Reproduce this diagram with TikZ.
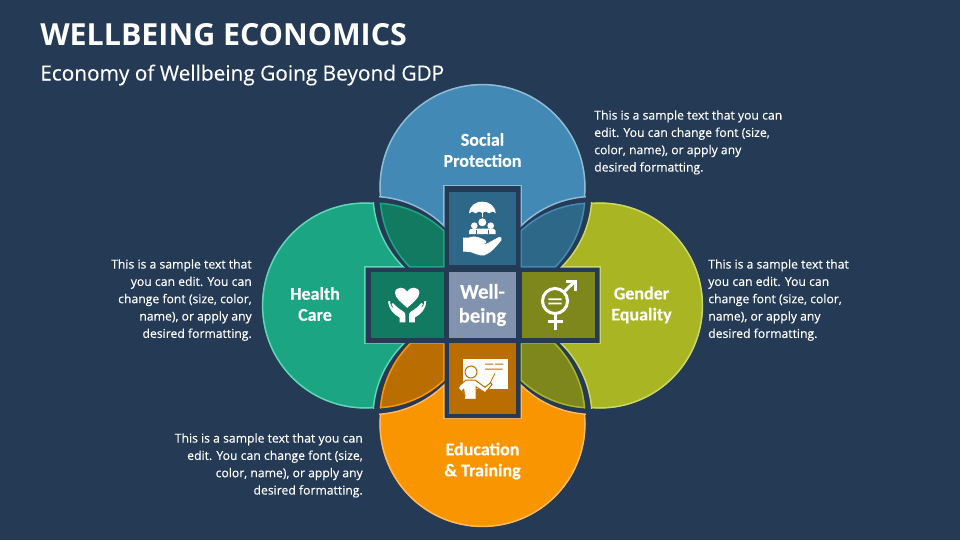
\documentclass[tikz,border=0pt]{standalone}
\usepackage{fontspec}
\setmainfont{Open Sans}
\newfontface\heavyface[FakeBold=0.25]{Open Sans}
\newfontface\labelface[FakeBold=0.2]{Carlito Bold}
\definecolor{navy}{HTML}{253A55}
\definecolor{cblue}{HTML}{428AB5}\definecolor{lblue}{HTML}{8FBBD6}\definecolor{dblue}{HTML}{2E6888}
\definecolor{cteal}{HTML}{1CA583}\definecolor{lteal}{HTML}{5FD6B5}\definecolor{dteal}{HTML}{137A62}
\definecolor{colive}{HTML}{A9B523}\definecolor{lolive}{HTML}{CBD867}\definecolor{dolive}{HTML}{7D871C}
\definecolor{corange}{HTML}{F99500}\definecolor{lorange}{HTML}{FFB962}\definecolor{dorange}{HTML}{BA6D00}
\definecolor{cgray}{HTML}{8193AE}
\def\Rp{77.25pt}\def\Rq{76.8pt}\def\Rs{77.8pt}
\def\CrossPath{(444.5,186) -- (520.5,186) -- (520.5,267.5) -- (599.5,267.5) -- (599.5,343) -- (520.5,343) -- (520.5,418) -- (444.5,418) -- (444.5,343) -- (365.5,343) -- (365.5,267.5) -- (444.5,267.5) -- cycle}
\tikzset{
  thin line/.style={line width=1.1pt},
  wide line/.style={line width=2.2pt},
  body text/.style={text=white,font=\fontsize{9.15pt}{13pt}\heavyface},
  label text/.style={text=white,align=center,font=\fontsize{13.5pt}{15.8pt}\labelface},
  ic/.style={line width=2.25pt,white,line cap=butt},
}
% centre, fill, light, cut one, cut two
\newcommand\Petal[5]{%
  \fill[#2] (#1) circle[radius=\Rp];
  \draw[#3,thin line] (#1) circle[radius=\Rq];
  \begin{scope}
    \clip (#1) circle[radius=\Rs];
    \draw[#3,wide line] \CrossPath;
    \fill[navy] (#4) circle[radius=\Rp];
    \fill[navy] (#5) circle[radius=\Rp];
    \draw[#3,thin line] (#4) circle[radius=\Rp];
    \draw[#3,thin line] (#5) circle[radius=\Rp];
  \end{scope}}
% centre one, centre two, fill, light
\newcommand\Lens[4]{%
  \begin{scope}
    \clip (#1) circle[radius=\Rp];
    \clip (#2) circle[radius=\Rp];
    \fill[#3] (0,0) rectangle (960,540);
    \draw[#4,wide line] \CrossPath;
    \draw[#4,wide line] (#1) circle[radius=\Rp];
    \draw[#4,wide line] (#2) circle[radius=\Rp];
  \end{scope}}
\begin{document}
\begin{tikzpicture}[x=0.75pt,y=-0.75pt]
\useasboundingbox (0,0) rectangle (960,540);
\fill[navy] (0,0) rectangle (960,540);
\coordinate (T) at (482.5,187);
\coordinate (B) at (482.5,424);
\coordinate (L) at (365,305.5);
\coordinate (R) at (600,305.5);
\Petal{T}{cblue}{lblue}{372,299.5}{593,299.5}
\Petal{B}{corange}{lorange}{372,311.5}{593,311.5}
\Petal{L}{cteal}{lteal}{476,194}{476,417}
\Petal{R}{colive}{lolive}{489,194}{489,417}
\Lens{374,305.5}{482.5,195}{dteal}{cteal}
\Lens{591,305.5}{482.5,195}{dblue}{cblue}
\Lens{374,305.5}{482.5,416}{dorange}{corange}
\Lens{591,305.5}{482.5,416}{dolive}{colive}
\fill[navy] \CrossPath;
% tiles
\fill[dblue] (449,192.3) rectangle (515.8,265);
\fill[dteal] (371,272) rectangle (444,337.8);
\fill[cgray] (449,272) rectangle (515.8,337.8);
\fill[dolive] (521.8,272) rectangle (595,337.8);
\fill[dorange] (449,343) rectangle (515.8,414);
% umbrella, people, hand
\fill[white] (469,213.3) .. controls (469.5,206) and (475,201.7) .. (482.3,201.7) .. controls (489.5,201.7) and (495.2,206) .. (495.7,213.3) .. controls (493,211) and (491,211) .. (489,213.3) .. controls (487,211) and (485,211) .. (482.3,213.3) .. controls (480,211) and (477.5,211) .. (475.5,213.3) .. controls (473.5,211) and (471,211) .. cycle;
\draw[white,line width=0.6pt] (482.3,212) -- (482.3,217);
\fill[white] (474.3,225.7) circle[radius=2.5pt] (482.3,222.3) circle[radius=3pt] (490.7,225.7) circle[radius=2.5pt];
\fill[white] (469,234) -- (469,231) .. controls (469,229) and (471,228.5) .. (476,228.5) -- (489,228.5) .. controls (494,228.5) and (495.7,229) .. (495.7,231) -- (495.7,234) -- cycle;
\draw[dblue,line width=0.5pt] (476.5,234) -- (476.5,230) (488.5,234) -- (488.5,230);
\fill[white] (463,237.5) -- (469,237.5) .. controls (473,236) and (477,236) .. (484,239.5) .. controls (487,241) and (487,243.5) .. (484,243.5) -- (479,243.5) -- (486,244) -- (499,237) .. controls (501,236.5) and (502.5,238) .. (501.5,240) .. controls (496,247) and (491,253) .. (484,255.5) .. controls (479,256) and (474,253) .. (470,252) -- (463,251.5) -- cycle;
% heart in hands
\fill[white] (407.2,307.8) .. controls (402,303) and (395,298) .. (395,292.8) .. controls (395,289.5) and (398,287.7) .. (400.5,287.7) .. controls (403,287.7) and (405.8,288.8) .. (407.2,291.5) .. controls (408.6,288.8) and (411.4,287.7) .. (413.9,287.7) .. controls (416.4,287.7) and (419.4,289.5) .. (419.4,292.8) .. controls (419.4,298) and (412.4,303) .. (407.2,307.8) -- cycle;
\fill[white] (388.3,301) -- (390,301) .. controls (390.2,305) and (391.5,307) .. (394,309) -- (391.5,304) -- (393,303) .. controls (396,306.5) and (400,309.5) .. (404,312) .. controls (405.2,313) and (405.3,314) .. (405.3,316) -- (405.3,322.3) -- (399.5,322.3) -- (399.5,317.5) .. controls (394,314.5) and (388,309) .. cycle;
\fill[white] (426.1,301) -- (424.4,301) .. controls (424.2,305) and (422.9,307) .. (420.4,309) -- (422.9,304) -- (421.4,303) .. controls (418.4,306.5) and (414.4,309.5) .. (410.4,312) .. controls (409.2,313) and (409.1,314) .. (409.1,316) -- (409.1,322.3) -- (414.9,322.3) -- (414.9,317.5) .. controls (420.4,314.5) and (426.4,309) .. cycle;
% gender symbol
\draw[ic] (555,301) circle[radius=9.4pt];
\fill[white] (548.3,298.3) rectangle (561.7,300) (548.3,302.7) rectangle (561.7,304.3);
\draw[ic] (555,313.5) -- (555,329.5) (547.7,321.7) -- (562.7,321.7);
\draw[ic] (564,292) -- (574.5,281.7);
\draw[ic,miter limit=10] (566,281.7) -- (575.3,281.7) -- (575.3,291);
% teacher
\fill[white] (463.3,359) rectangle (508.3,389);
\fill[dorange] (485,363.5) rectangle (493.3,364.5) (495,363.5) rectangle (503.3,364.5) (485,368.5) rectangle (502.7,369.5);
\draw[dorange,line width=0.75pt,fill=white] (471,372) circle[radius=4.5pt];
\draw[dorange,line width=0.6pt] (490,383.3) -- (495,373.3);
\draw[dorange,line width=0.75pt,fill=white] (466,380) -- (475,380) -- (485,387.3) -- (490.7,382.7) -- (492,384.7) -- (485,392.7) -- (476,386.7) -- (476,399.3) -- (464,399.3) -- (465,395) -- (458.3,388.3) -- (460,385) -- cycle;
\fill[dorange] (464,388.3) -- (461.7,390.7) -- (465,394) -- cycle;
% texts
\node[anchor=base west,inner sep=0pt,text=white,font=\fontsize{22.8pt}{26pt}\selectfont\bfseries] (title) at (40,45.5) {WELLBEING ECONOMICS};
\node[anchor=base west,inner sep=0pt,text=white,font=\fontsize{15.6pt}{18pt}\heavyface] (subtitle) at (40,80.5) {Economy of Wellbeing Going Beyond GDP};
\node[label text] (social) at (482.5,150) {Social\\Protection};
\node[label text] (health) at (315,304) {Health\\Care};
\node[label text] (gender) at (641.5,305) {Gender\\Equality};
\node[label text] (education) at (482.5,461) {Education\\\& Training};
\node[label text,font=\fontsize{15.5pt}{18pt}\labelface] (wellbeing) at (482.5,305) {Well-\\being};
\node[body text,anchor=north west,inner sep=0pt,align=left] (ttr) at (594,110) {This is a sample text that you can\\edit. You can change font (size,\\color, name), or apply any\\desired formatting.};
\node[body text,anchor=north west,inner sep=0pt,align=left] (tr) at (708,259) {This is a sample text that\\you can edit. You can\\change font (size, color,\\name), or apply any\\desired formatting.};
\node[body text,anchor=north east,inner sep=0pt,align=right] (tl) at (252,259) {This is a sample text that\\you can edit. You can\\change font (size, color,\\name), or apply any\\desired formatting.};
\node[body text,anchor=north east,inner sep=0pt,align=right] (tbl) at (363,433) {This is a sample text that you can\\edit. You can change font (size,\\color, name), or apply any\\desired formatting.};
\end{tikzpicture}
\end{document}
